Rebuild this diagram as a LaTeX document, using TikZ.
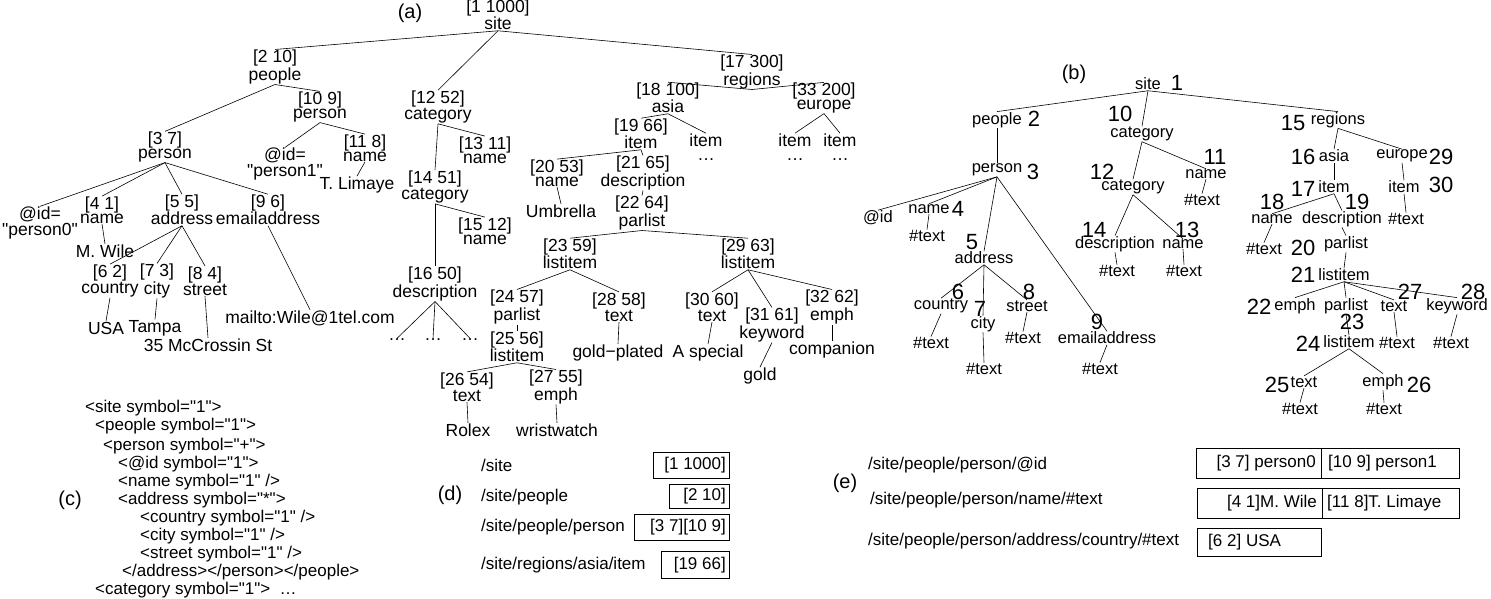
\documentclass[tikz,border=0pt]{standalone}
\usepackage{fontspec}
\setmainfont{Liberation Sans}
\newcommand\qq{\textquotedbl}
\begin{document}
\begin{tikzpicture}[x=1pt,y=-1pt,
  a/.style={font=\fontsize{17.5}{13.5}\selectfont,align=center,inner sep=0.5pt},
  bw/.style={font=\fontsize{16.5}{16}\selectfont,inner sep=0.5pt},
  bn/.style={font=\fontsize{22}{22}\selectfont,inner sep=0pt},
  cl/.style={font=\fontsize{17}{17}\selectfont,anchor=west,inner sep=0pt},
  lab/.style={font=\fontsize{20}{20}\selectfont,inner sep=0pt},
  bx/.style={draw,line width=0.7pt},
  e/.style={line width=0.6pt}]
\useasboundingbox (0,0) rectangle (1491,599);
% ---------- (a)
\node[lab] (la) at (410,13) {(a)};
\node[a] (s) at (498,15) {[1 1000]\\site};
\node[a] (pe) at (275,67) {[2 10]\\people};
\node[a] (p10) at (320,107) {[10 9]\\person};
\node[a] (c12) at (438,107) {[12 52]\\category};
\node[a] (rg) at (752,72) {[17 300]\\regions};
\node[a] (as) at (668,98) {[18 100]\\asia};
\node[a] (eu) at (824,98) {[33 200]\\europe};
\node[a] (i19) at (641,134) {[19 66]\\item};
\node[a] (i2) at (706,147) {item\\\dots};
\node[a] (e1) at (795,147) {item\\\dots};
\node[a] (e2) at (840,147) {item\\\dots};
\node[a] (p3) at (165,147) {[3 7]\\person};
\node[a] (id0) at (40,223) {@id=\\\qq person0\qq};
\node[a] (n4) at (102,210) {[4 1]\\name};
\node[a] (mw) at (105,251) {M. Wile};
\node[a] (ad5) at (182,210) {[5 5]\\address};
\node[a] (em9) at (268,210) {[9 6]\\emailaddress};
\node[a] (mail) at (310,318) {mailto:Wile@1tel.com};
\node[a] (co6) at (110,281) {[6 2]\\country};
\node[a] (ci7) at (157,281) {[7 3]\\city};
\node[a] (st8) at (205,281) {[8 4]\\street};
\node[a] (usa) at (106,328) {USA};
\node[a] (tam) at (155,328) {Tampa};
\node[a] (mcc) at (208,345) {35 McCrossin St};
\node[a] (id1) at (285,164) {@id=\\\qq person1\qq};
\node[a] (n11) at (365,148) {[11 8]\\name};
\node[a] (tl) at (357,185) {T. Limaye};
\node[a] (n13) at (485,150) {[13 11]\\name};
\node[a] (c14) at (435,187) {[14 51]\\category};
\node[a] (n15) at (485,231) {[15 12]\\name};
\node[a] (d16) at (435,284) {[16 50]\\description};
\node[a] (dt1) at (397,340) {\dots};
\node[a] (dt2) at (433,340) {\dots};
\node[a] (dt3) at (470,340) {\dots};
\node[a] (n20) at (557,173) {[20 53]\\name};
\node[a] (umb) at (561,211) {Umbrella};
\node[a] (d21) at (643,173) {[21 65]\\description};
\node[a] (pl22) at (642,213) {[22 64]\\parlist};
\node[a] (li23) at (570,254) {[23 59]\\listitem};
\node[a] (li29) at (748,254) {[29 63]\\listitem};
\node[a] (pl24) at (517,307) {[24 57]\\parlist};
\node[a] (li25) at (517,347) {[25 56]\\listitem};
\node[a] (t26) at (467,387) {[26 54]\\text};
\node[a] (e27) at (556,387) {[27 55]\\emph};
\node[a] (rol) at (468,430) {Rolex};
\node[a] (wri) at (557,430) {wristwatch};
\node[a] (t28) at (619,307) {[28 58]\\text};
\node[a] (gp) at (618,353) {gold\symbol{"2212}plated};
\node[a] (t30) at (712,307) {[30 60]\\text};
\node[a] (asp) at (708,353) {A special};
\node[a] (k31) at (772,325) {[31 61]\\keyword};
\node[a] (gold) at (760,376) {gold};
\node[a] (e32) at (832,307) {[32 62]\\emph};
\node[a] (comp) at (832,350) {companion};
\foreach \p/\c in {s/pe,s/c12,s/rg,pe/p3,pe/p10,p10/id1,p10/n11,n11/tl,p3/id0,p3/n4,p3/ad5,p3/em9,
  n4/mw,ad5/co6,ad5/ci7,ad5/st8,co6/usa,ci7/tam,st8/mcc,em9/mail,c12/c14,c12/n13,c14/d16,c14/n15,
  d16/dt1,d16/dt2,d16/dt3,rg/as,rg/eu,as/i19,as/i2,eu/e1,eu/e2,i19/n20,i19/d21,n20/umb,d21/pl22,
  pl22/li23,pl22/li29,li23/pl24,li23/t28,pl24/li25,li25/t26,li25/e27,t26/rol,e27/wri,t28/gp,
  li29/t30,li29/k31,li29/e32,t30/asp,k31/gold,e32/comp}
  \draw[e] (\p.south) -- (\c.north);
% ---------- (b)
\node[lab] (lb) at (1074,74) {(b)};
\node[bw] (bsite) at (1148,84) {site};
\node[bn] at (1177,83) {1};
\node[bw] (bpeople) at (997,120) {people};
\node[bn] at (1034,119) {2};
\node[bn] at (1120,114) {10};
\node[bw] (bcat) at (1142,134) {category};
\node[bn] at (1293,123) {15};
\node[bw] (breg) at (1338,120) {regions};
\node[bw] (bperson) at (997,170) {person};
\node[bn] at (1033,172) {3};
\node[bn] at (1215,157) {11};
\node[bw] (bname11) at (1206,174) {name};
\node[bw] (bt11) at (1202,200) {\#text};
\node[bn] at (1102,172) {12};
\node[bw] (bcat12) at (1133,187) {category};
\node[bn] at (1303,157) {16};
\node[bw] (basia) at (1334,156) {asia};
\node[bw] (beur) at (1402,156) {europe};
\node[bn] at (1441,157) {29};
\node[bn] at (1303,189) {17};
\node[bw] (bitem) at (1334,187) {item};
\node[bw] (bitem30) at (1404,187) {item};
\node[bn] at (1441,185) {30};
\node[bw] (bt30) at (1406,219) {\#text};
\node[bw] (bid) at (878,218) {@id};
\node[bw] (bname4) at (929,209) {name};
\node[bn] at (958,209) {4};
\node[bw] (bt4) at (927,236) {\#text};
\node[bn] at (972,242) {5};
\node[bw] (baddr) at (984,258) {address};
\node[bn] at (1094,230) {14};
\node[bw] (bdesc14) at (1115,244) {description};
\node[bw] (bt14) at (1117,271) {\#text};
\node[bn] at (1187,230) {13};
\node[bw] (bname13) at (1183,244) {name};
\node[bw] (bt13) at (1184,271) {\#text};
\node[bn] at (1272,202) {18};
\node[bw] (bname18) at (1272,219) {name};
\node[bn] at (1357,202) {19};
\node[bw] (bdesc19) at (1342,219) {description};
\node[bw] (bt18) at (1264,249) {\#text};
\node[bn] at (1303,248) {20};
\node[bw] (bpl20) at (1346,244) {parlist};
\node[bn] at (1303,275) {21};
\node[bw] (bli21) at (1344,275) {listitem};
\node[bn] at (1259,307) {22};
\node[bw] (bemph22) at (1295,306) {emph};
\node[bw] (bpl23) at (1346,306) {parlist};
\node[bn] at (1410,292) {27};
\node[bw] (btext27) at (1394,306) {text};
\node[bn] at (1473,292) {28};
\node[bw] (bkw28) at (1457,306) {keyword};
\node[bn] at (958,292) {6};
\node[bw] (bcountry) at (941,306) {country};
\node[bn] at (980,309) {7};
\node[bw] (bcity) at (983,324) {city};
\node[bn] at (1029,292) {8};
\node[bw] (bstreet) at (1027,306) {street};
\node[bn] at (1097,322) {9};
\node[bw] (bemail) at (1107,338) {emailaddress};
\node[bw] (bt9) at (1100,369) {\#text};
\node[bw] (bt6) at (931,343) {\#text};
\node[bw] (bt7) at (984,369) {\#text};
\node[bw] (bt8) at (1023,338) {\#text};
\node[bn] at (1352,322) {23};
\node[bn] at (1308,344) {24};
\node[bw] (bli24) at (1349,342) {listitem};
\node[bw] (bt27) at (1397,343) {\#text};
\node[bw] (bt28) at (1451,343) {\#text};
\node[bn] at (1277,385) {25};
\node[bw] (btext25) at (1304,382) {text};
\node[bw] (bemph26) at (1383,382) {emph};
\node[bn] at (1419,385) {26};
\node[bw] (bt25) at (1300,409) {\#text};
\node[bw] (bt26) at (1384,409) {\#text};
\foreach \p/\c in {bsite/bpeople,bsite/bcat,bsite/breg,bpeople/bperson,bperson/bid,bperson/bname4,
  bperson/baddr,bperson/bemail,bname4/bt4,baddr/bcountry,baddr/bcity,baddr/bstreet,bcountry/bt6,
  bcity/bt7,bstreet/bt8,bemail/bt9,bcat/bcat12,bcat/bname11,bname11/bt11,bcat12/bdesc14,bcat12/bname13,
  bdesc14/bt14,bname13/bt13,breg/basia,breg/beur,basia/bitem,beur/bitem30,bitem30/bt30,bitem/bname18,
  bitem/bdesc19,bname18/bt18,bdesc19/bpl20,bpl20/bli21,bli21/bemph22,bli21/bpl23,bli21/btext27,
  bli21/bkw28,btext27/bt27,bkw28/bt28,bpl23/bli24,bli24/btext25,bli24/bemph26,btext25/bt25,bemph26/bt26}
  \draw[e] (\p.south) -- (\c.north);
% ---------- (c)
\node[lab] (lc) at (70,500) {(c)};
\node[cl] (c1) at (85,408) {<site symbol=\qq 1\qq>};
\node[cl] (c2) at (95,426) {<people symbol=\qq 1\qq>};
\node[cl] (c3) at (103,446) {<person symbol=\qq +\qq>};
\node[cl] (c4) at (118,464) {<@id symbol=\qq 1\qq>};
\node[cl] (c5) at (118,482) {<name symbol=\qq 1\qq\ />};
\node[cl] (c6) at (118,500) {<address symbol=\qq *\qq>};
\node[cl] (c7) at (140,518) {<country symbol=\qq 1\qq\ />};
\node[cl] (c8) at (140,536) {<city symbol=\qq 1\qq\ />};
\node[cl] (c9) at (140,554) {<street symbol=\qq 1\qq\ />};
\node[cl] (c10) at (122,572) {</address></person></people>};
\node[cl] (c11) at (95,590) {<category symbol=\qq 1\qq>\ \ \dots};
% ---------- (d)
\node[lab] (ld) at (450,495) {(d)};
\node[cl] (d1) at (481,465) {/site};
\node[cl] (d2) at (481,497) {/site/people};
\node[cl] (d3) at (481,527) {/site/people/person};
\node[cl] (d4) at (481,565) {/site/regions/asia/item};
\draw[bx] (653,452) rectangle (729,478);
\draw[bx] (669,484) rectangle (729,508);
\draw[bx] (634,514) rectangle (729,540);
\draw[bx] (661,551) rectangle (729,578);
\node[cl,anchor=east] (db1) at (726,465) {[1 1000]};
\node[cl,anchor=east] (db2) at (726,496) {[2 10]};
\node[cl,anchor=east] (db3) at (726,527) {[3 7][10 9]};
\node[cl,anchor=east] (db4) at (726,565) {[19 66]};
% ---------- (e)
\node[lab] (le) at (845,483) {(e)};
\node[cl] (e1p) at (868,465) {/site/people/person/@id};
\node[cl] (e2p) at (870,500) {/site/people/person/name/\#text};
\node[cl] (e3p) at (868,541) {/site/people/person/address/country/\#text};
\draw[bx] (1196,448) rectangle (1459,478) (1321,448) -- (1321,478);
\draw[bx] (1197,488) rectangle (1459,518) (1322,488) -- (1322,518);
\draw[bx] (1197,528) rectangle (1321,556);
\node[cl,anchor=east] (eb1) at (1316,463) {[3 7] person0};
\node[cl,anchor=west] (eb2) at (1328,463) {[10 9] person1};
\node[cl,anchor=east] (eb3) at (1317,503) {[4 1]M. Wile};
\node[cl,anchor=west] (eb4) at (1327,503) {[11 8]T. Limaye};
\node[cl,anchor=west] (eb5) at (1208,542) {[6 2] USA};
\end{tikzpicture}
\end{document}
